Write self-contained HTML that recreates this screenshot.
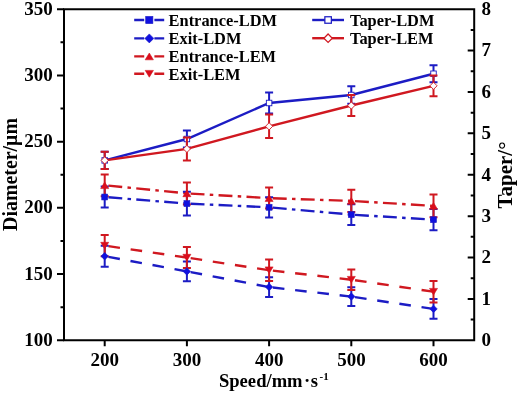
<!DOCTYPE html>
<html><head><meta charset="utf-8"><title>Diameter and taper vs speed</title>
<style>html,body{margin:0;padding:0;background:#fff;}svg{display:block;}</style></head>
<body>
<svg width="520" height="394" viewBox="0 0 520 394">
<rect width="520" height="394" fill="#fff"/>
<path d="M104.70 197.00L186.90 203.60" fill="none" stroke="#1c1cc4" stroke-width="2.4" stroke-dasharray="13.9 5.3 3.5 5.3" stroke-dashoffset="24.3"/><path d="M186.90 203.60L269.10 207.30" fill="none" stroke="#1c1cc4" stroke-width="2.4" stroke-dasharray="13.9 5.3 3.5 5.3" stroke-dashoffset="24.3"/><path d="M269.10 207.30L351.30 214.60" fill="none" stroke="#1c1cc4" stroke-width="2.4" stroke-dasharray="13.9 5.3 3.5 5.3" stroke-dashoffset="24.3"/><path d="M351.30 214.60L433.50 219.70" fill="none" stroke="#1c1cc4" stroke-width="2.4" stroke-dasharray="13.9 5.3 3.5 5.3" stroke-dashoffset="24.3"/>
<path d="M104.70 256.20L186.90 271.40" fill="none" stroke="#1c1cc4" stroke-width="2.4" stroke-dasharray="11.6 10.8" stroke-dashoffset="18.6"/><path d="M186.90 271.40L269.10 287.10" fill="none" stroke="#1c1cc4" stroke-width="2.4" stroke-dasharray="11.6 10.8" stroke-dashoffset="18.6"/><path d="M269.10 287.10L351.30 296.60" fill="none" stroke="#1c1cc4" stroke-width="2.4" stroke-dasharray="11.6 10.8" stroke-dashoffset="18.6"/><path d="M351.30 296.60L433.50 308.90" fill="none" stroke="#1c1cc4" stroke-width="2.4" stroke-dasharray="11.6 10.8" stroke-dashoffset="18.6"/>
<path d="M104.70 185.30L186.90 193.40" fill="none" stroke="#d01820" stroke-width="2.4" stroke-dasharray="13.9 5.3 3.5 5.3" stroke-dashoffset="24.3"/><path d="M186.90 193.40L269.10 198.10" fill="none" stroke="#d01820" stroke-width="2.4" stroke-dasharray="13.9 5.3 3.5 5.3" stroke-dashoffset="24.3"/><path d="M269.10 198.10L351.30 200.90" fill="none" stroke="#d01820" stroke-width="2.4" stroke-dasharray="13.9 5.3 3.5 5.3" stroke-dashoffset="24.3"/><path d="M351.30 200.90L433.50 205.90" fill="none" stroke="#d01820" stroke-width="2.4" stroke-dasharray="13.9 5.3 3.5 5.3" stroke-dashoffset="24.3"/>
<path d="M104.70 245.60L186.90 257.60" fill="none" stroke="#d01820" stroke-width="2.4" stroke-dasharray="11.6 10.8" stroke-dashoffset="18.6"/><path d="M186.90 257.60L269.10 270.20" fill="none" stroke="#d01820" stroke-width="2.4" stroke-dasharray="11.6 10.8" stroke-dashoffset="18.6"/><path d="M269.10 270.20L351.30 279.70" fill="none" stroke="#d01820" stroke-width="2.4" stroke-dasharray="11.6 10.8" stroke-dashoffset="18.6"/><path d="M351.30 279.70L433.50 291.70" fill="none" stroke="#d01820" stroke-width="2.4" stroke-dasharray="11.6 10.8" stroke-dashoffset="18.6"/>
<path d="M104.70 186.40V207.60M100.70 186.40H108.70M100.70 207.60H108.70" stroke="#1c1cc4" stroke-width="2.0" fill="none"/>
<path d="M186.90 191.80V215.40M182.90 191.80H190.90M182.90 215.40H190.90" stroke="#1c1cc4" stroke-width="2.0" fill="none"/>
<path d="M269.10 197.20V217.40M265.10 197.20H273.10M265.10 217.40H273.10" stroke="#1c1cc4" stroke-width="2.0" fill="none"/>
<path d="M351.30 204.30V224.90M347.30 204.30H355.30M347.30 224.90H355.30" stroke="#1c1cc4" stroke-width="2.0" fill="none"/>
<path d="M433.50 209.10V230.30M429.50 209.10H437.50M429.50 230.30H437.50" stroke="#1c1cc4" stroke-width="2.0" fill="none"/>
<path d="M104.70 245.70V266.70M100.70 245.70H108.70M100.70 266.70H108.70" stroke="#1c1cc4" stroke-width="2.0" fill="none"/>
<path d="M186.90 261.50V281.30M182.90 261.50H190.90M182.90 281.30H190.90" stroke="#1c1cc4" stroke-width="2.0" fill="none"/>
<path d="M269.10 277.20V297.00M265.10 277.20H273.10M265.10 297.00H273.10" stroke="#1c1cc4" stroke-width="2.0" fill="none"/>
<path d="M351.30 287.20V306.00M347.30 287.20H355.30M347.30 306.00H355.30" stroke="#1c1cc4" stroke-width="2.0" fill="none"/>
<path d="M433.50 299.00V318.80M429.50 299.00H437.50M429.50 318.80H437.50" stroke="#1c1cc4" stroke-width="2.0" fill="none"/>
<path d="M104.70 174.40V196.20M100.70 174.40H108.70M100.70 196.20H108.70" stroke="#d01820" stroke-width="2.0" fill="none"/>
<path d="M186.90 182.40V204.40M182.90 182.40H190.90M182.90 204.40H190.90" stroke="#d01820" stroke-width="2.0" fill="none"/>
<path d="M269.10 187.60V208.60M265.10 187.60H273.10M265.10 208.60H273.10" stroke="#d01820" stroke-width="2.0" fill="none"/>
<path d="M351.30 189.80V212.00M347.30 189.80H355.30M347.30 212.00H355.30" stroke="#d01820" stroke-width="2.0" fill="none"/>
<path d="M433.50 194.50V217.30M429.50 194.50H437.50M429.50 217.30H437.50" stroke="#d01820" stroke-width="2.0" fill="none"/>
<path d="M104.70 235.00V256.20M100.70 235.00H108.70M100.70 256.20H108.70" stroke="#d01820" stroke-width="2.0" fill="none"/>
<path d="M186.90 247.10V268.10M182.90 247.10H190.90M182.90 268.10H190.90" stroke="#d01820" stroke-width="2.0" fill="none"/>
<path d="M269.10 259.50V280.90M265.10 259.50H273.10M265.10 280.90H273.10" stroke="#d01820" stroke-width="2.0" fill="none"/>
<path d="M351.30 269.50V289.90M347.30 269.50H355.30M347.30 289.90H355.30" stroke="#d01820" stroke-width="2.0" fill="none"/>
<path d="M433.50 280.90V302.50M429.50 280.90H437.50M429.50 302.50H437.50" stroke="#d01820" stroke-width="2.0" fill="none"/>
<rect x="101.75" y="194.05" width="5.90" height="5.90" fill="#1010e0" stroke="#1c1cc4" stroke-width="0.6"/>
<rect x="183.95" y="200.65" width="5.90" height="5.90" fill="#1010e0" stroke="#1c1cc4" stroke-width="0.6"/>
<rect x="266.15" y="204.35" width="5.90" height="5.90" fill="#1010e0" stroke="#1c1cc4" stroke-width="0.6"/>
<rect x="348.35" y="211.65" width="5.90" height="5.90" fill="#1010e0" stroke="#1c1cc4" stroke-width="0.6"/>
<rect x="430.55" y="216.75" width="5.90" height="5.90" fill="#1010e0" stroke="#1c1cc4" stroke-width="0.6"/>
<path d="M104.70 252.45L108.45 256.20L104.70 259.95L100.95 256.20Z" fill="#1010e0" stroke="#1c1cc4" stroke-width="0.6"/>
<path d="M186.90 267.65L190.65 271.40L186.90 275.15L183.15 271.40Z" fill="#1010e0" stroke="#1c1cc4" stroke-width="0.6"/>
<path d="M269.10 283.35L272.85 287.10L269.10 290.85L265.35 287.10Z" fill="#1010e0" stroke="#1c1cc4" stroke-width="0.6"/>
<path d="M351.30 292.85L355.05 296.60L351.30 300.35L347.55 296.60Z" fill="#1010e0" stroke="#1c1cc4" stroke-width="0.6"/>
<path d="M433.50 305.15L437.25 308.90L433.50 312.65L429.75 308.90Z" fill="#1010e0" stroke="#1c1cc4" stroke-width="0.6"/>
<path d="M104.70 182.00L108.70 188.60L100.70 188.60Z" fill="#dc0c1c" stroke="#d01820" stroke-width="0.6"/>
<path d="M186.90 190.10L190.90 196.70L182.90 196.70Z" fill="#dc0c1c" stroke="#d01820" stroke-width="0.6"/>
<path d="M269.10 194.80L273.10 201.40L265.10 201.40Z" fill="#dc0c1c" stroke="#d01820" stroke-width="0.6"/>
<path d="M351.30 197.60L355.30 204.20L347.30 204.20Z" fill="#dc0c1c" stroke="#d01820" stroke-width="0.6"/>
<path d="M433.50 202.60L437.50 209.20L429.50 209.20Z" fill="#dc0c1c" stroke="#d01820" stroke-width="0.6"/>
<path d="M104.70 248.90L108.70 242.30L100.70 242.30Z" fill="#dc0c1c" stroke="#d01820" stroke-width="0.6"/>
<path d="M186.90 260.90L190.90 254.30L182.90 254.30Z" fill="#dc0c1c" stroke="#d01820" stroke-width="0.6"/>
<path d="M269.10 273.50L273.10 266.90L265.10 266.90Z" fill="#dc0c1c" stroke="#d01820" stroke-width="0.6"/>
<path d="M351.30 283.00L355.30 276.40L347.30 276.40Z" fill="#dc0c1c" stroke="#d01820" stroke-width="0.6"/>
<path d="M433.50 295.00L437.50 288.40L429.50 288.40Z" fill="#dc0c1c" stroke="#d01820" stroke-width="0.6"/>
<polyline points="104.70,160.40 186.90,139.00 269.10,103.00 351.30,95.00 433.50,73.75" fill="none" stroke="#1c1cc4" stroke-width="2.4"/>
<path d="M104.70 151.80V169.00M100.70 151.80H108.70M100.70 169.00H108.70" stroke="#1c1cc4" stroke-width="2.0" fill="none"/>
<path d="M186.90 130.40V147.60M182.90 130.40H190.90M182.90 147.60H190.90" stroke="#1c1cc4" stroke-width="2.0" fill="none"/>
<path d="M269.10 92.50V113.50M265.10 92.50H273.10M265.10 113.50H273.10" stroke="#1c1cc4" stroke-width="2.0" fill="none"/>
<path d="M351.30 86.20V103.80M347.30 86.20H355.30M347.30 103.80H355.30" stroke="#1c1cc4" stroke-width="2.0" fill="none"/>
<path d="M433.50 65.20V82.30M429.50 65.20H437.50M429.50 82.30H437.50" stroke="#1c1cc4" stroke-width="2.0" fill="none"/>
<rect x="101.95" y="157.65" width="5.50" height="5.50" fill="#fff" stroke="#1c1cc4" stroke-width="0.90"/>
<rect x="184.15" y="136.25" width="5.50" height="5.50" fill="#fff" stroke="#1c1cc4" stroke-width="0.90"/>
<rect x="266.35" y="100.25" width="5.50" height="5.50" fill="#fff" stroke="#1c1cc4" stroke-width="0.90"/>
<rect x="348.55" y="92.25" width="5.50" height="5.50" fill="#fff" stroke="#1c1cc4" stroke-width="0.90"/>
<rect x="430.75" y="71.00" width="5.50" height="5.50" fill="#fff" stroke="#1c1cc4" stroke-width="0.90"/>
<polyline points="104.70,160.40 186.90,148.90 269.10,126.30 351.30,105.50 433.50,85.80" fill="none" stroke="#d01820" stroke-width="2.4"/>
<path d="M104.70 151.80V169.00M100.70 151.80H108.70M100.70 169.00H108.70" stroke="#d01820" stroke-width="2.0" fill="none"/>
<path d="M186.90 137.40V160.40M182.90 137.40H190.90M182.90 160.40H190.90" stroke="#d01820" stroke-width="2.0" fill="none"/>
<path d="M269.10 114.60V138.00M265.10 114.60H273.10M265.10 138.00H273.10" stroke="#d01820" stroke-width="2.0" fill="none"/>
<path d="M351.30 95.10V115.90M347.30 95.10H355.30M347.30 115.90H355.30" stroke="#d01820" stroke-width="2.0" fill="none"/>
<path d="M433.50 75.40V96.20M429.50 75.40H437.50M429.50 96.20H437.50" stroke="#d01820" stroke-width="2.0" fill="none"/>
<path d="M104.70 156.80L108.30 160.40L104.70 164.00L101.10 160.40Z" fill="#fff" stroke="#d01820" stroke-width="0.90"/>
<path d="M186.90 145.30L190.50 148.90L186.90 152.50L183.30 148.90Z" fill="#fff" stroke="#d01820" stroke-width="0.90"/>
<path d="M269.10 122.70L272.70 126.30L269.10 129.90L265.50 126.30Z" fill="#fff" stroke="#d01820" stroke-width="0.90"/>
<path d="M351.30 101.90L354.90 105.50L351.30 109.10L347.70 105.50Z" fill="#fff" stroke="#d01820" stroke-width="0.90"/>
<path d="M433.50 82.20L437.10 85.80L433.50 89.40L429.90 85.80Z" fill="#fff" stroke="#d01820" stroke-width="0.90"/>
<path d="M64.0 9.3H474.2V340.3H64.0Z" fill="none" stroke="#000" stroke-width="2"/>
<path d="M57.00 340.30H64.0M57.00 274.08H64.0M57.00 207.86H64.0M57.00 141.64H64.0M57.00 75.42H64.0M57.00 9.20H64.0M60.50 307.19H64.0M60.50 240.97H64.0M60.50 174.75H64.0M60.50 108.53H64.0M60.50 42.31H64.0M467.70 298.91H474.2M467.70 257.52H474.2M467.70 216.13H474.2M467.70 174.74H474.2M467.70 133.35H474.2M467.70 91.96H474.2M467.70 50.57H474.2M470.70 319.61H474.2M470.70 278.22H474.2M470.70 236.83H474.2M470.70 195.44H474.2M470.70 154.05H474.2M470.70 112.66H474.2M470.70 71.26H474.2M470.70 29.88H474.2M104.70 340.3V346.30M186.90 340.3V346.30M269.10 340.3V346.30M351.30 340.3V346.30M433.50 340.3V346.30" stroke="#000" stroke-width="2" fill="none"/>
<text x="52.8" y="345.90" text-anchor="end" font-size="19" font-family="Liberation Serif, serif" font-weight="bold">100</text>
<text x="52.8" y="279.68" text-anchor="end" font-size="19" font-family="Liberation Serif, serif" font-weight="bold">150</text>
<text x="52.8" y="213.46" text-anchor="end" font-size="19" font-family="Liberation Serif, serif" font-weight="bold">200</text>
<text x="52.8" y="147.24" text-anchor="end" font-size="19" font-family="Liberation Serif, serif" font-weight="bold">250</text>
<text x="52.8" y="81.02" text-anchor="end" font-size="19" font-family="Liberation Serif, serif" font-weight="bold">300</text>
<text x="52.8" y="14.80" text-anchor="end" font-size="19" font-family="Liberation Serif, serif" font-weight="bold">350</text>
<text x="481.4" y="346.10" font-size="19" font-family="Liberation Serif, serif" font-weight="bold">0</text>
<text x="481.4" y="304.71" font-size="19" font-family="Liberation Serif, serif" font-weight="bold">1</text>
<text x="481.4" y="263.32" font-size="19" font-family="Liberation Serif, serif" font-weight="bold">2</text>
<text x="481.4" y="221.93" font-size="19" font-family="Liberation Serif, serif" font-weight="bold">3</text>
<text x="481.4" y="180.54" font-size="19" font-family="Liberation Serif, serif" font-weight="bold">4</text>
<text x="481.4" y="139.15" font-size="19" font-family="Liberation Serif, serif" font-weight="bold">5</text>
<text x="481.4" y="97.76" font-size="19" font-family="Liberation Serif, serif" font-weight="bold">6</text>
<text x="481.4" y="56.37" font-size="19" font-family="Liberation Serif, serif" font-weight="bold">7</text>
<text x="481.4" y="14.98" font-size="19" font-family="Liberation Serif, serif" font-weight="bold">8</text>
<text x="104.80" y="366.3" text-anchor="middle" font-size="19" font-family="Liberation Serif, serif" font-weight="bold">200</text>
<text x="187.00" y="366.3" text-anchor="middle" font-size="19" font-family="Liberation Serif, serif" font-weight="bold">300</text>
<text x="269.20" y="366.3" text-anchor="middle" font-size="19" font-family="Liberation Serif, serif" font-weight="bold">400</text>
<text x="351.40" y="366.3" text-anchor="middle" font-size="19" font-family="Liberation Serif, serif" font-weight="bold">500</text>
<text x="433.60" y="366.3" text-anchor="middle" font-size="19" font-family="Liberation Serif, serif" font-weight="bold">600</text>
<text x="273.8" y="387" text-anchor="middle" font-size="18.6" font-family="Liberation Serif, serif" font-weight="bold">Speed/mm<tspan dx="1.4">·</tspan><tspan dx="0.4">s</tspan><tspan dx="1.6" dy="-7" font-size="11">-1</tspan></text>
<text transform="translate(16.5,174.5) rotate(-90)" text-anchor="middle" font-size="19.9" font-family="Liberation Serif, serif" font-weight="bold">Diameter/μm</text>
<text transform="translate(511.5,175) rotate(-90)" text-anchor="middle" font-size="21" font-family="Liberation Serif, serif" font-weight="bold">Taper/<tspan dy="1.2">°</tspan></text>
<path d="M134.2 20.0H144.2M154.4 20.0H164.2" stroke="#1c1cc4" stroke-width="2.4"/>
<rect x="145.70" y="16.40" width="7.20" height="7.20" fill="#1010e0" stroke="#1c1cc4" stroke-width="0.6"/>
<text x="168.6" y="25.80" font-size="16.4" font-family="Liberation Serif, serif" font-weight="bold">Entrance-LDM</text>
<path d="M134.2 38.4H144.2M154.4 38.4H164.2" stroke="#1c1cc4" stroke-width="2.4"/>
<path d="M149.30 33.90L153.80 38.40L149.30 42.90L144.80 38.40Z" fill="#1010e0" stroke="#1c1cc4" stroke-width="0.6"/>
<text x="168.6" y="44.20" font-size="16.4" font-family="Liberation Serif, serif" font-weight="bold">Exit-LDM</text>
<path d="M134.2 56.4H144.2M154.4 56.4H164.2" stroke="#d01820" stroke-width="2.4"/>
<path d="M149.30 53.00L153.42 59.80L145.18 59.80Z" fill="#dc0c1c" stroke="#d01820" stroke-width="0.6"/>
<text x="168.6" y="62.20" font-size="16.4" font-family="Liberation Serif, serif" font-weight="bold">Entrance-LEM</text>
<path d="M134.2 73.8H144.2M154.4 73.8H164.2" stroke="#d01820" stroke-width="2.4"/>
<path d="M149.30 77.20L153.42 70.40L145.18 70.40Z" fill="#dc0c1c" stroke="#d01820" stroke-width="0.6"/>
<text x="168.6" y="79.60" font-size="16.4" font-family="Liberation Serif, serif" font-weight="bold">Exit-LEM</text>
<path d="M312.2 20.0H344" stroke="#1c1cc4" stroke-width="2.4"/>
<rect x="324.86" y="16.75" width="6.49" height="6.49" fill="#fff" stroke="#1c1cc4" stroke-width="1.25"/>
<text x="350" y="25.60" font-size="16.4" font-family="Liberation Serif, serif" font-weight="bold">Taper-LDM</text>
<path d="M312.2 38.2H344" stroke="#d01820" stroke-width="2.4"/>
<path d="M328.10 33.99L332.31 38.20L328.10 42.41L323.89 38.20Z" fill="#fff" stroke="#d01820" stroke-width="1.23"/>
<text x="350" y="43.80" font-size="16.4" font-family="Liberation Serif, serif" font-weight="bold">Taper-LEM</text>
</svg>
</body></html>
